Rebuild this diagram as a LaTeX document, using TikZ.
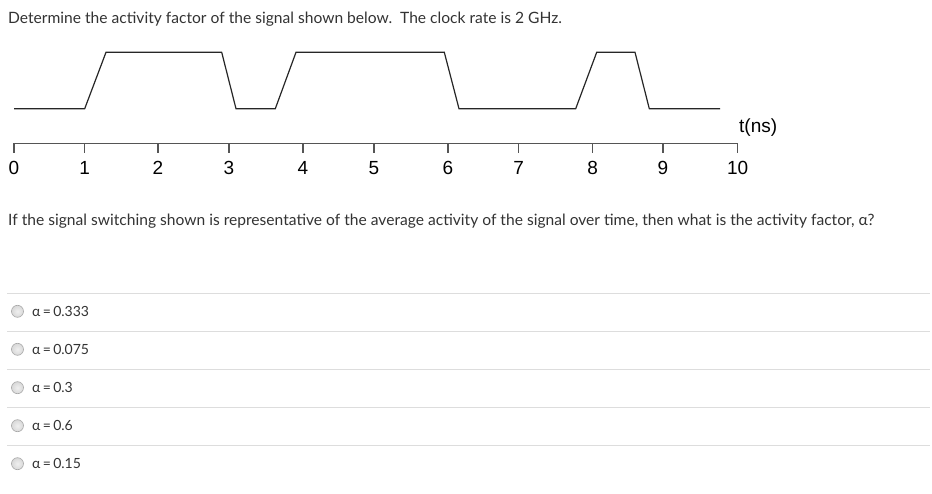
\documentclass[tikz,border=0pt]{standalone}
\usepackage{fontspec}
\setmainfont{Lato}
\newfontfamily\arialf{Liberation Sans}
\definecolor{txt}{HTML}{333333}
\definecolor{sep}{HTML}{DDDDDD}
\definecolor{axisc}{HTML}{555555}
\definecolor{radiob}{HTML}{A8A8A8}
\definecolor{radiof}{HTML}{D8D8D8}
\begin{document}
\begin{tikzpicture}[x=1pt,y=-1pt,
  qtext/.style={anchor=west,inner sep=0pt,text=txt,font=\fontsize{15.6}{18}\selectfont},
  opttext/.style={anchor=west,inner sep=0pt,text=txt,font=\fontsize{14}{16}\selectfont},
  ticklab/.style={anchor=center,inner sep=0pt,font=\arialf\fontsize{19}{22}\selectfont},
  sigline/.style={line width=1.2pt,draw=black!85},
  axline/.style={line width=1.2pt,draw=axisc},
  sepline/.style={line width=0.8pt,draw=sep},
  radio/.style={circle,draw=radiob,line width=0.6pt,inner color=white!60!radiof,outer color=radiof,minimum size=12pt,inner sep=0pt}]
\useasboundingbox (0,0) rectangle (932,494);
\fill[white] (0,0) rectangle (932,494);
\node[qtext] (title) at (8,19) {Determine the activity factor of the signal shown below.\ \ The clock rate is 2 GHz.};
% signal
\coordinate (s0) at (14,108.7);
\coordinate (s1) at (84.7,108.7);
\coordinate (s2) at (106,52.3);
\coordinate (s3) at (221.7,52.3);
\coordinate (s4) at (236,108.7);
\coordinate (s5) at (275.3,108.7);
\coordinate (s6) at (296,52.3);
\coordinate (s7) at (444.3,52.3);
\coordinate (s8) at (459,108.7);
\coordinate (s9) at (575.7,108.7);
\coordinate (s10) at (596.7,52.3);
\coordinate (s11) at (635,52.3);
\coordinate (s12) at (649.3,108.7);
\coordinate (s13) at (720,108.7);
\draw[sigline] (s0)--(s1)--(s2)--(s3)--(s4)--(s5)--(s6)--(s7)--(s8)--(s9)--(s10)--(s11)--(s12)--(s13);
% axis
\coordinate (a0) at (14,143.3);
\coordinate (a10) at (737.7,143.3);
\draw[axline] (a0)--(a10);
\foreach \i/\x in {0/14,1/84.7,2/158,3/229,4/303,5/374,6/448,7/518.7,8/592.7,9/663,10/737.7}{
  \draw[axline] (\x,143.3) -- (\x,153.3);
  \node[ticklab] (t\i) at (\x,168) {\i};
}
\node[ticklab,anchor=west] (tns) at (739,128) {t(ns)};
\node[qtext] (q) at (8,221) {If the signal switching shown is representative of the average activity of the signal over time, then what is the activity factor, α?};
% options
\foreach \i/\y in {1/293.3,2/331.3,3/369.3,4/407.3,5/445.3}{
  \coordinate (l\i a) at (7,\y);
  \coordinate (l\i b) at (930,\y);
  \draw[sepline] (l\i a)--(l\i b);
}
\foreach \i/\y/\v in {1/311.3/0.333,2/349.3/0.075,3/387.7/0.3,4/425.7/0.6,5/463.7/0.15}{
  \node[radio] (r\i) at (17.5,\y) {};
  \node[opttext] (o\i) at (32,\y) {α\,=\,\v};
}
\end{tikzpicture}
\end{document}
